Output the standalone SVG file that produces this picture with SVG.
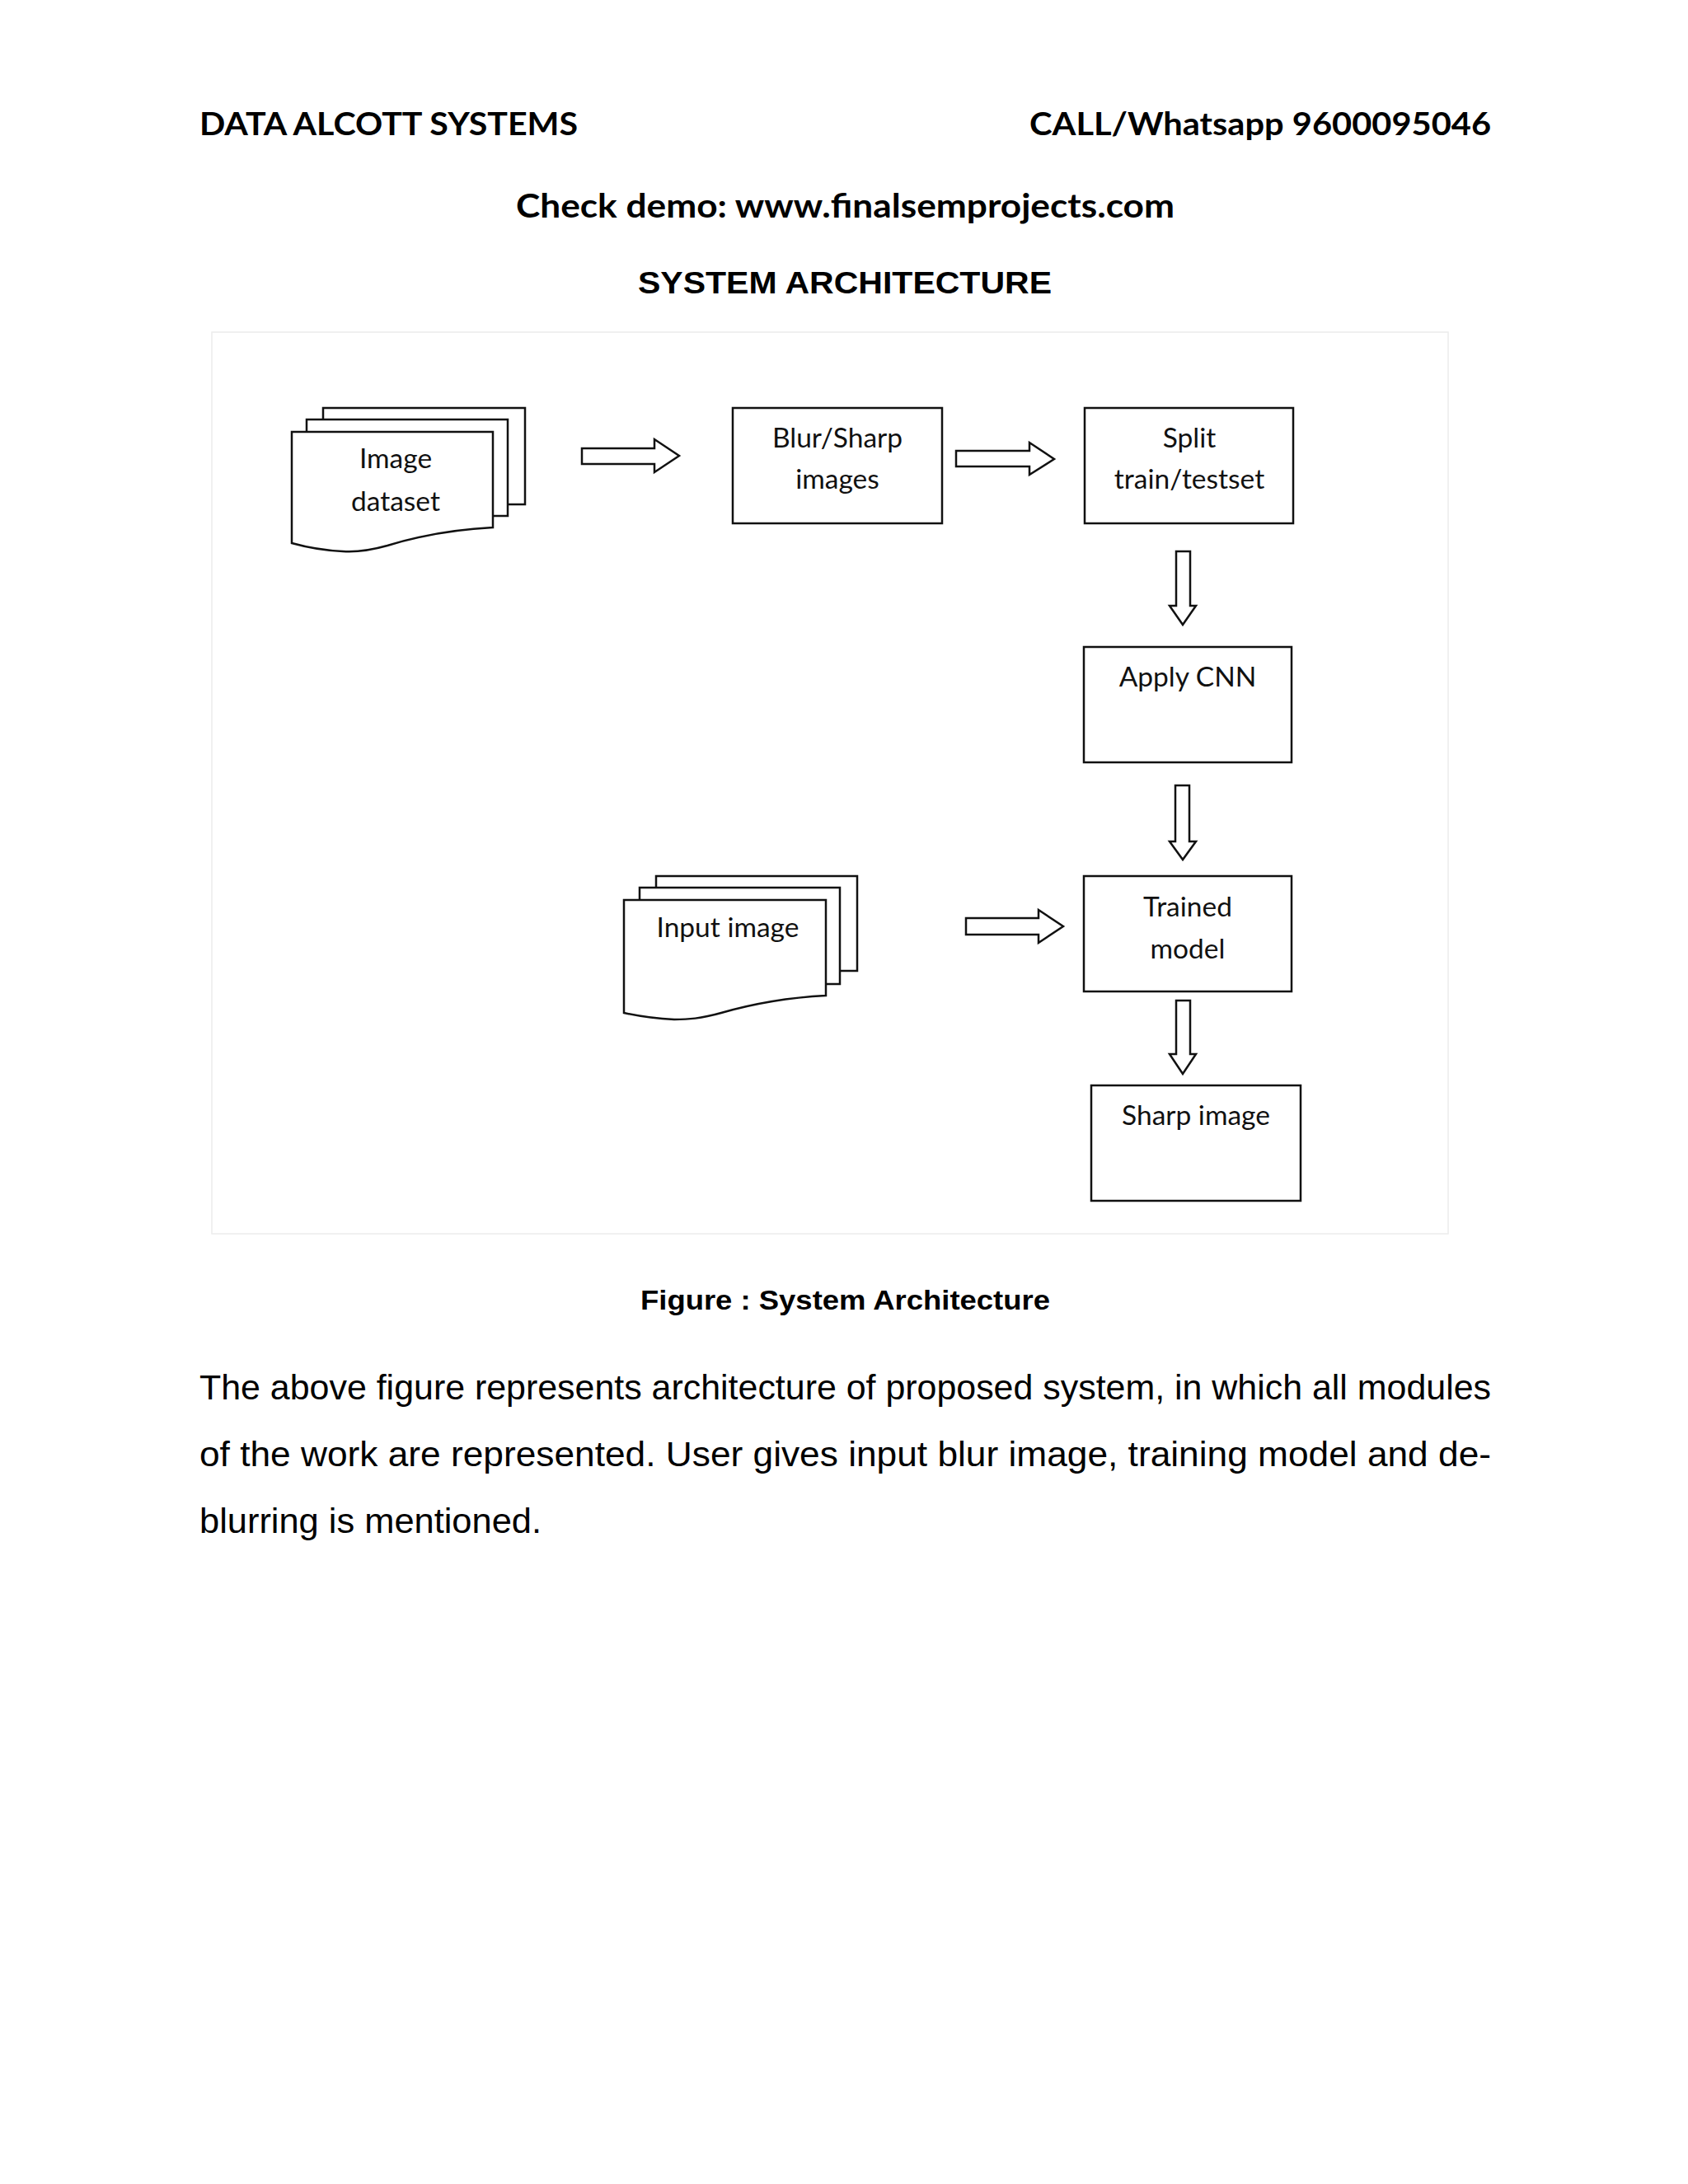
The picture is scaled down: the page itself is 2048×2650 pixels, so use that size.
<svg xmlns="http://www.w3.org/2000/svg" width="2048" height="2650" viewBox="0 0 2048 2650">
<style>
.hdr{font-family:Lato,"Open Sans",sans-serif;font-weight:bold;fill:#000}
.ttl{font-family:"Liberation Sans",Arial,sans-serif;font-weight:bold;fill:#000}
.body{font-family:"Liberation Sans",Arial,sans-serif;font-size:43px;fill:#000}
.lbl{font-family:Lato,"Open Sans",sans-serif;font-size:33.5px;fill:#111;text-anchor:middle}
.box{fill:#fff;stroke:#111;stroke-width:2.5}
.arr{fill:#fff;stroke:#111;stroke-width:2.5;stroke-linejoin:miter}
</style>
<rect width="2048" height="2650" fill="#fff"/>
<text class="hdr" x="242" y="164" font-size="39" textLength="459" lengthAdjust="spacingAndGlyphs">DATA ALCOTT SYSTEMS</text>
<text class="hdr" x="1249" y="164" font-size="39" textLength="560" lengthAdjust="spacingAndGlyphs">CALL/Whatsapp 9600095046</text>
<text class="hdr" x="626" y="264" font-size="40" textLength="799" lengthAdjust="spacingAndGlyphs">Check demo: www.finalsemprojects.com</text>
<text class="ttl" x="774" y="356" font-size="37" textLength="502" lengthAdjust="spacingAndGlyphs">SYSTEM ARCHITECTURE</text>
<rect x="257" y="403" width="1500" height="1094" fill="#fff" stroke="#ececec" stroke-width="1.5"/>
<g id="image-dataset">
<rect class="box" x="392" y="495" width="245" height="117"/>
<rect class="box" x="372" y="509" width="244" height="117"/>
<path class="box" d="M354,524 H598 V640 C560,642 515,648 470,662 C445,669 430,670 416,669 C395,668 372,664 354,659 Z"/>
<text class="lbl" x="480" y="568">Image</text>
<text class="lbl" x="480" y="620">dataset</text>
</g>
<g id="blur-sharp">
<rect class="box" x="889" y="495" width="254" height="140"/>
<text class="lbl" x="1016" y="543">Blur/Sharp</text>
<text class="lbl" x="1016" y="593">images</text>
</g>
<g id="split">
<rect class="box" x="1316" y="495" width="253" height="140"/>
<text class="lbl" x="1443" y="543">Split</text>
<text class="lbl" x="1443" y="593">train/testset</text>
</g>
<g id="apply-cnn">
<rect class="box" x="1315" y="785" width="252" height="140"/>
<text class="lbl" x="1441" y="833">Apply CNN</text>
</g>
<g id="input-image">
<rect class="box" x="796" y="1063" width="244" height="115"/>
<rect class="box" x="776" y="1077" width="243" height="117"/>
<path class="box" d="M757,1092 H1002 V1208 C964,1210 920,1216 875,1229 C850,1236 835,1237 818,1237 C797,1236 775,1233 757,1229 Z"/>
<text class="lbl" x="883" y="1137">Input image</text>
</g>
<g id="trained-model">
<rect class="box" x="1315" y="1063" width="252" height="140"/>
<text class="lbl" x="1441" y="1112">Trained</text>
<text class="lbl" x="1441" y="1163">model</text>
</g>
<g id="sharp-image">
<rect class="box" x="1324" y="1317" width="254" height="140"/>
<text class="lbl" x="1451" y="1365">Sharp image</text>
</g>
<g id="connectors">
<path class="arr" d="M706,544 H794 V533 L824,553 L794,573 V563 H706 Z"/>
<path class="arr" d="M1160,547 H1249 V537 L1279,557 L1249,576 V566 H1160 Z"/>
<path class="arr" d="M1172,1114 H1260 V1104 L1290,1124 L1260,1144 V1134 H1172 Z"/>
<path class="arr" d="M1427,669 V735 H1419 L1435,758 L1451,735 H1444 V669 Z"/>
<path class="arr" d="M1426,953 V1021 H1419 L1435,1043 L1451,1021 H1443 V953 Z"/>
<path class="arr" d="M1427,1214 V1279 H1419 L1435,1303 L1451,1279 H1444 V1214 Z"/>
</g>
<text class="ttl" x="777" y="1589" font-size="34" textLength="497" lengthAdjust="spacingAndGlyphs">Figure : System Architecture</text>
<text class="body" x="242" y="1698" textLength="1567" lengthAdjust="spacingAndGlyphs">The above figure represents architecture of proposed system, in which all modules</text>
<text class="body" x="242" y="1779" textLength="1567" lengthAdjust="spacingAndGlyphs">of the work are represented. User gives input blur image, training model and de-</text>
<text class="body" x="242" y="1860" textLength="415" lengthAdjust="spacingAndGlyphs">blurring is mentioned.</text>
</svg>
